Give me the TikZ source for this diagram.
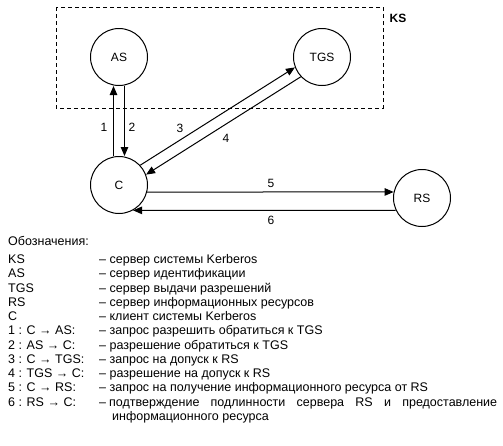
\documentclass[tikz,border=0pt]{standalone}
\usepackage{fontspec}
\setmainfont{Liberation Sans}
\usetikzlibrary{arrows.meta}

\tikzset{
  srv/.style={draw, circle, line width=1pt, minimum size=57pt, inner sep=0pt, font=\fontsize{12}{14}\selectfont},
  msg/.style={line width=1pt, -{Triangle[length=9pt,width=7.5pt]}},
  num/.style={inner sep=1pt, font=\fontsize{12}{14}\selectfont},
  leg/.style={anchor=base west, inner sep=0pt, font=\fontsize{12.5}{14}\selectfont}
}

\begin{document}
\begin{tikzpicture}[x=1pt, y=-1pt]
\useasboundingbox (0,0) rectangle (503,445);

\draw[line width=1pt, dash pattern=on 4pt off 3pt] (56,7) rectangle (383,108);
\node[num, font=\fontsize{12}{14}\selectfont\bfseries] (ks) at (398,18) {KS};

\node[srv] (AS) at (119,57) {AS};
\node[srv] (TGS) at (322,57) {TGS};
\node[srv] (C) at (119,185) {C};
\node[srv] (RS) at (422,198) {RS};

\draw[msg, transform canvas={xshift=-5.5pt}] (C) -- (AS);
\draw[msg, transform canvas={xshift=5.5pt}] (AS) -- (C);

\draw[msg] (C.43) -- (TGS.201);
\draw[msg] (TGS.223) -- (C.21);

\draw[msg] (C.-14) -- (RS.168);
\draw[msg] (RS.205) -- (C.-61);

\node[num] (n1) at (104,127) {1};
\node[num] (n2) at (132,127) {2};
\node[num] (n3) at (180,128) {3};
\node[num] (n4) at (226,138) {4};
\node[num] (n5) at (271,183) {5};
\node[num] (n6) at (271,220) {6};

% legend
\node[leg] (title) at (8,245.5) {Обозначения:};

\node[leg] (k1) at (8,263.5) {KS};
\node[leg] (d1) at (99,263.5) {– сервер системы Kerberos};
\node[leg] (k2) at (8,277.75) {AS};
\node[leg] (d2) at (99,277.75) {– сервер идентификации};
\node[leg] (k3) at (8,292) {TGS};
\node[leg] (d3) at (99,292) {– сервер выдачи разрешений};
\node[leg] (k4) at (8,306.25) {RS};
\node[leg] (d4) at (99,306.25) {– сервер информационных ресурсов};
\node[leg] (k5) at (8,320.5) {C};
\node[leg] (d5) at (99,320.5) {– клиент системы Kerberos};
\node[leg] (k6) at (8,334.75) {1 : C → AS:};
\node[leg] (d6) at (99,334.75) {– запрос разрешить обратиться к TGS};
\node[leg] (k7) at (8,349) {2 : AS → C:};
\node[leg] (d7) at (99,349) {– разрешение обратиться к TGS};
\node[leg] (k8) at (8,363.25) {3 : C → TGS:};
\node[leg] (d8) at (99,363.25) {– запрос на допуск к RS};
\node[leg] (k9) at (8,377.5) {4 : TGS → C:};
\node[leg] (d9) at (99,377.5) {– разрешение на допуск к RS};
\node[leg] (k10) at (8,391.75) {5 : C → RS:};
\node[leg] (d10) at (99,391.75) {– запрос на получение информационного ресурса от RS};
\node[leg] (k11) at (8,406) {6 : RS → C:};
\node[leg] (d11) at (99,406) {\makebox[398pt][s]{–\hspace{3pt}подтверждение подлинности сервера RS и предоставление}};
\node[leg] (d12) at (112,420.25) {информационного ресурса};
\end{tikzpicture}
\end{document}
